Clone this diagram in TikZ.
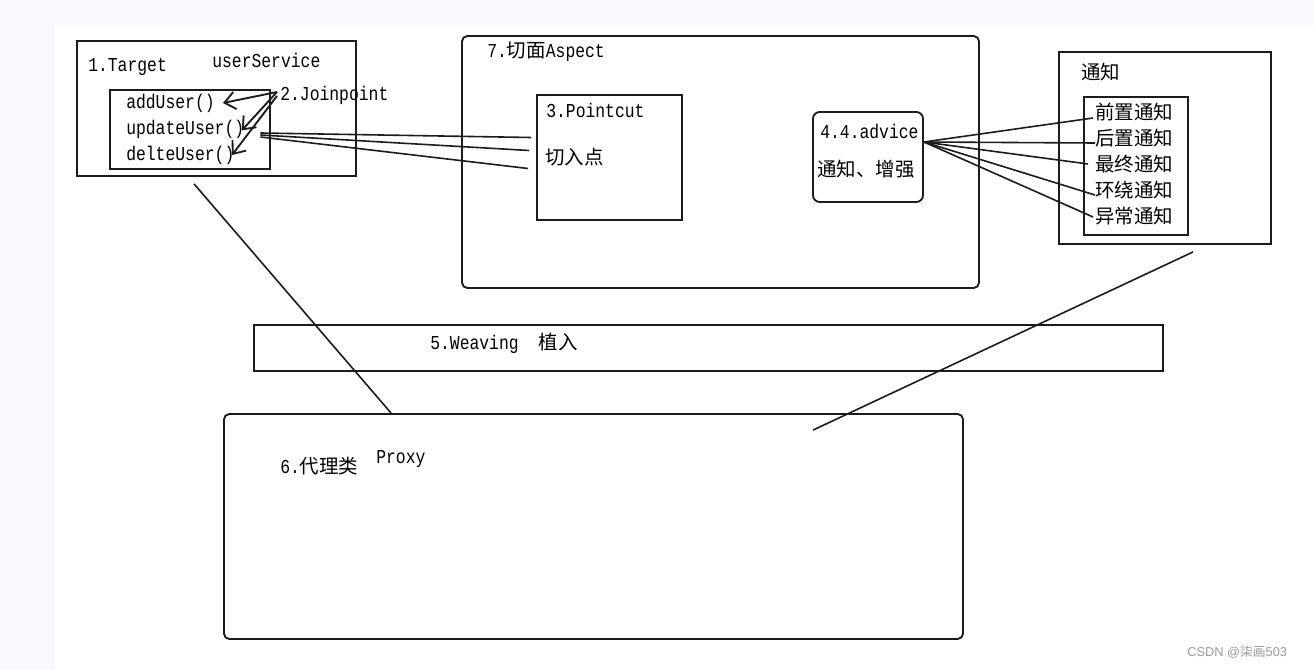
\documentclass[tikz,border=0pt]{standalone}
\usepackage{fontspec}
\setmainfont{Liberation Mono}[FakeStretch=0.83]
\newfontfamily\cjk{Noto Sans CJK SC}
\newfontfamily\wmfont{Liberation Sans}
\usetikzlibrary{positioning,arrows.meta,fit,calc}

\definecolor{pagebg}{HTML}{F7F9FC}
\definecolor{ink}{HTML}{1C1C1C}
\newcommand{\zh}[1]{{\fontsize{14.6}{16}\cjk #1}}

\begin{document}
\begin{tikzpicture}[
    x=0.75pt, y=-0.75pt,
    >={Straight Barb[length=8pt,width=13pt]},
    box/.style={draw=ink, line width=1.4pt, inner sep=0pt},
    rbox/.style={box, rounded corners=4pt},
    txt/.style={anchor=west, inner sep=0pt, font=\fontsize{14.8}{16}\selectfont},
    link/.style={draw=ink, line width=1.2pt}
]
    % page
    \fill[pagebg] (0,0) rectangle (1314,670);
    \fill[white] (55,25) rectangle (1314,670);
    \useasboundingbox (0,0) rectangle (1314,670);

    % Target: userService
    \node[box, fit={(77,41) (356,176)}] (target) {};
    \node[txt] (tgtlbl) at (88,67) {1.Target};
    \node[txt] (svc) at (212,60) {userService};
    \node[box, fit={(110,90) (270,169)}] (methods) {};
    \node[txt] (add) at (126,103) {addUser()};
    \node[txt] (upd) at (126,129) {updateUser()};
    \node[txt] (del) at (126,155) {delteUser()};
    \node[txt] (jplbl) at (280,95) {2.Joinpoint};
    \coordinate (jp) at (277,92);

    % Aspect
    \node[rbox, fit={(462,36) (979,288)}] (aspect) {};
    \node[txt] (asplbl) at (487,52) {7.\zh{切面}Aspect};
    \node[box, fit={(537,95) (682,220)}] (pc) {};
    \node[txt] (pclbl) at (546,110) {3.Pointcut};
    \node[txt] (pczh) at (545,157) {\zh{切入点}};
    \node[rbox, rounded corners=5pt, fit={(813,112) (923,202)}] (adv) {};
    \node[txt] (advlbl) at (820,131) {4.4.advice};
    \node[txt] (advzh) at (817,169) {\zh{通知、增强}};

    % advice kinds
    \node[box, fit={(1059,52) (1271,244)}] (notice) {};
    \node[txt] (ntlbl) at (1081,72) {\zh{通知}};
    \node[box, fit={(1084,97) (1188,235)}] (kinds) {};
    \node[txt] (before) at (1095,112) {\zh{前置通知}};
    \node[txt] (after) at (1095,138) {\zh{后置通知}};
    \node[txt] (final) at (1095,164) {\zh{最终通知}};
    \node[txt] (around) at (1095,190) {\zh{环绕通知}};
    \node[txt] (thrown) at (1095,216) {\zh{异常通知}};

    % Weaving
    \node[box, fit={(254,325) (1163,371)}] (weave) {};
    \node[txt] (wvlbl) at (430,343) {5.Weaving\hspace{15pt}\zh{植入}};

    % Proxy
    \node[rbox, fit={(224,414) (963,639)}] (proxy) {};
    \node[txt] (pxlbl) at (280,466) {6.\zh{代理类}};
    \node[txt] (pxname) at (376,459) {Proxy};

    % watermark
    \node[txt, text=black!40, font=\wmfont\fontsize{9.6}{11}\selectfont] (wm) at (1187,652) {CSDN @{\cjk 柒画}503};

    % joinpoint arrows
    \draw[link, line width=1.4pt, ->] (jp) -- ([xshift=6pt]add.east);
    \draw[link, line width=1.4pt, ->] (jp) -- ([xshift=-2pt,yshift=-1pt]upd.east);
    \draw[link, line width=1.4pt, ->] ([yshift=-3pt]jp) -- ([xshift=-2pt]del.east);

    % updateUser to pointcut
    \draw[link] ($(upd.east)+(16,4)$) -- ($(pc.west)+(-5,-20)$);
    \draw[link] ($(upd.east)+(16,6)$) -- ($(pc.west)+(-7,-7)$);
    \draw[link] ($(upd.east)+(16,8)$) -- ($(pc.west)+(-8,11)$);

    % advice to kinds
    \coordinate (advout) at ($(adv.east)+(0,-15)$);
    \draw[link] (advout) -- ($(before.west)+(-2,6)$);
    \draw[link] (advout) -- ($(after.west)+(0,5)$);
    \draw[link] (advout) -- ($(final.west)+(-7,0)$);
    \draw[link] (advout) -- ($(around.west)+(0,5)$);
    \draw[link] (advout) -- ($(thrown.west)+(-2,1)$);

    % long strokes down to the proxy
    \coordinate (tgtfoot) at ($(target.south west)+(118,7)$);
    \draw[link] (tgtfoot) -- ($(proxy.north west)+(168,0)$);
    \coordinate (ntfoot) at ($(notice.south west)+(135,7)$);
    \coordinate (pxin) at ($(proxy.north west)+(590,17)$);
    \draw[link] (ntfoot) -- (pxin);
\end{tikzpicture}
\end{document}
